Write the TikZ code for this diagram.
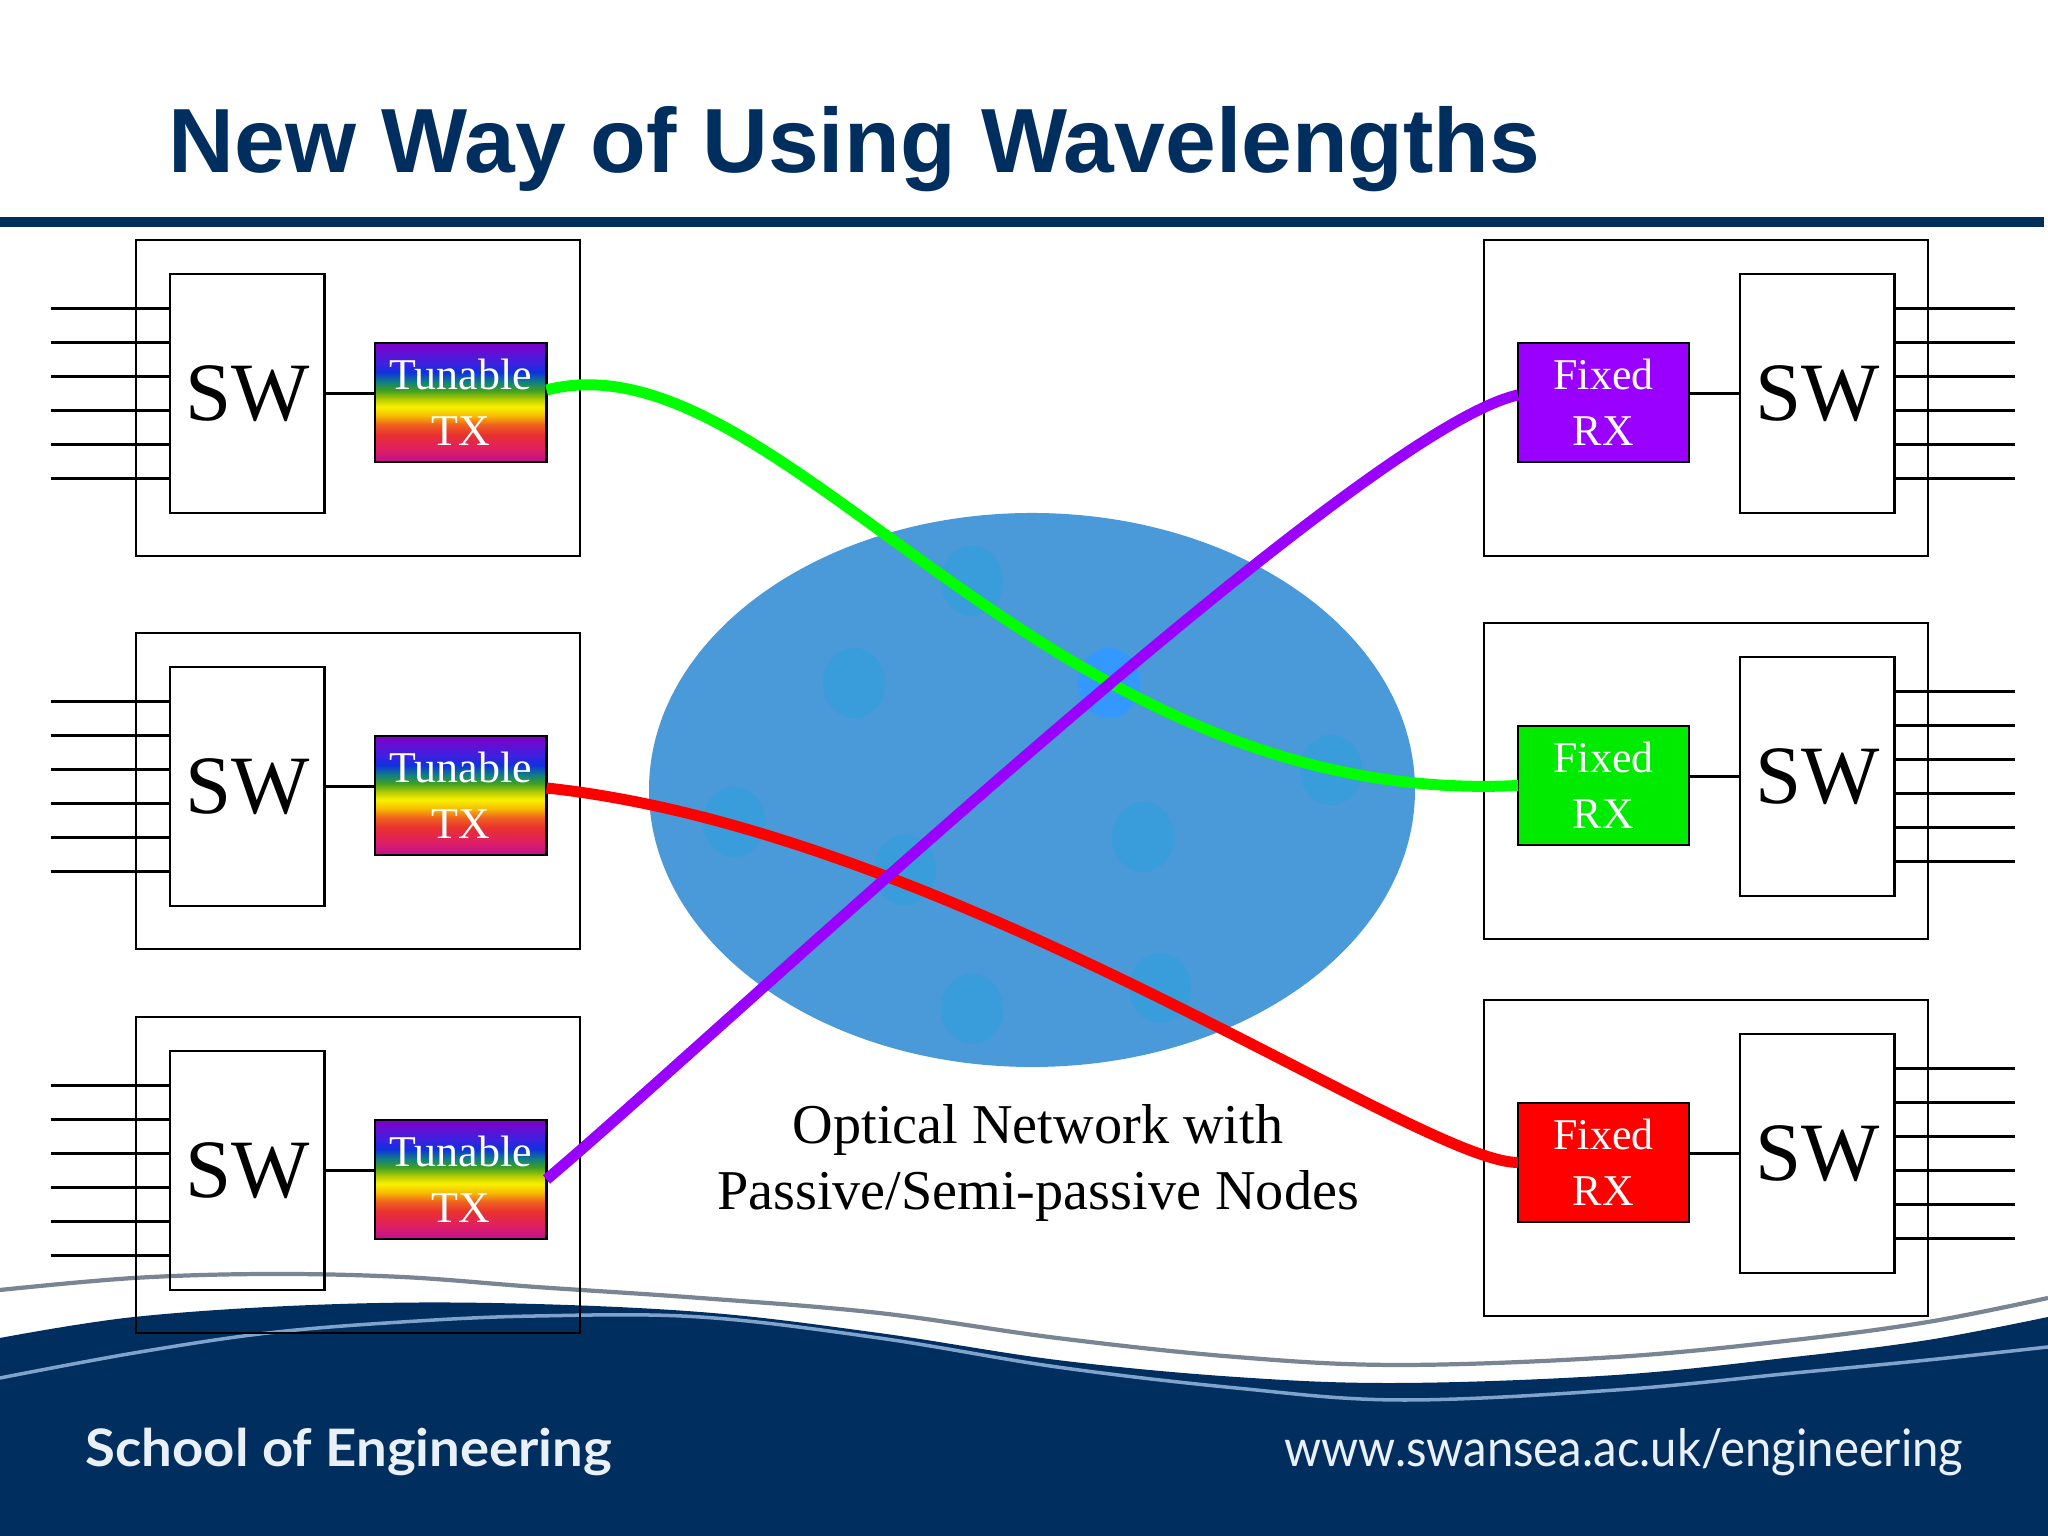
\documentclass[tikz,border=0pt]{standalone}
\usepackage{fontspec}
\setmainfont{Liberation Serif}
\newfontfamily\headfont{Liberation Sans}
\newfontfamily\footfont{Lato}
\usepackage{xcolor}
\usepackage{tikz}
\usetikzlibrary{positioning,shapes.geometric}

\definecolor{navy}{RGB}{0,46,94}
\definecolor{netblue}{RGB}{74,153,217}
\definecolor{netspot}{RGB}{56,157,218}
\definecolor{netbright}{RGB}{51,153,255}
\definecolor{bandgray}{RGB}{122,133,148}
\definecolor{bandblue}{RGB}{127,163,204}
\definecolor{foottext}{RGB}{234,240,248}
\definecolor{rxpurple}{RGB}{153,0,255}
\definecolor{rxgreen}{RGB}{0,235,0}
\definecolor{fibregreen}{RGB}{0,255,0}
\definecolor{rxred}{RGB}{255,0,0}
\definecolor{rbA}{RGB}{192,16,144}
\definecolor{rbB}{RGB}{224,32,96}
\definecolor{rbC}{RGB}{232,48,48}
\definecolor{rbD}{RGB}{240,96,32}
\definecolor{rbE}{RGB}{248,192,0}
\definecolor{rbF}{RGB}{248,240,0}
\definecolor{rbG}{RGB}{192,208,0}
\definecolor{rbH}{RGB}{64,160,32}
\definecolor{rbI}{RGB}{16,128,128}
\definecolor{rbJ}{RGB}{16,48,224}
\definecolor{rbK}{RGB}{64,32,224}
\definecolor{rbL}{RGB}{128,0,200}
\pgfdeclareverticalshading{rainbowtx}{100bp}{color(0bp)=(rbA); color(25bp)=(rbA);
  color(30.8bp)=(rbB); color(36.4bp)=(rbC); color(40.6bp)=(rbD); color(44.7bp)=(rbE);
  color(48.2bp)=(rbF); color(51bp)=(rbG); color(55.1bp)=(rbH); color(58.6bp)=(rbI);
  color(62.8bp)=(rbJ); color(66.9bp)=(rbK); color(75bp)=(rbL); color(100bp)=(rbL)}

\begin{document}
\begin{tikzpicture}[
  node distance=0.50cm,
  unitbox/.style={rectangle, draw, line width=0.8pt, inner sep=0pt, outer sep=0pt, minimum width=4.44cm, minimum height=3.16cm},
  swbox/.style={rectangle, draw, line width=0.8pt, inner sep=0pt, outer sep=0pt, minimum width=1.545cm, minimum height=2.39cm, font=\fontsize{23.6pt}{24pt}\selectfont},
  txbox/.style={rectangle, draw, line width=0.8pt, inner sep=0pt, outer sep=0pt, shade, shading=rainbowtx, minimum width=1.715cm, minimum height=1.19cm, align=center, text=white, font=\fontsize{12.5pt}{15.9pt}\selectfont},
  rxbox/.style={rectangle, draw, line width=0.8pt, inner sep=0pt, outer sep=0pt, fill=#1, minimum width=1.71cm, minimum height=1.19cm, align=center, text=white, font=\fontsize{12.5pt}{15.9pt}\selectfont},
  wire/.style={line width=0.7pt},
  fibre/.style={line width=0.11cm}
]
\useasboundingbox (0,0) rectangle (20.48,15.36);
\fill[white] (0,0) rectangle (20.48,15.36);

% footer band
\fill[navy] plot[smooth, tension=0.6] coordinates {(0,1.98) (1.34,2.19) (3.12,2.31) (4.91,2.33) (7.00,2.24) (8.79,2.03) (10.57,1.76) (12.36,1.59) (14.00,1.53) (16.16,1.61) (17.94,1.79) (19.28,1.96) (20.48,2.19)} -- (20.48,0) -- (0,0) -- cycle;
\draw[bandgray, line width=1.2pt] plot[smooth, tension=0.6] coordinates {(0,2.46) (1.34,2.58) (2.68,2.62) (4.02,2.59) (5.36,2.49) (7.00,2.38) (8.79,2.23) (10.57,1.98) (12.36,1.79) (14.00,1.71) (16.16,1.79) (17.94,1.96) (19.28,2.14) (20.48,2.38)};
\draw[bandblue, line width=1pt] plot[smooth, tension=0.6] coordinates {(0,1.58) (1.34,1.83) (2.68,2.03) (4.02,2.14) (5.36,2.20) (7.00,2.19) (8.79,1.98) (10.57,1.69) (12.36,1.48) (14.00,1.36) (16.16,1.46) (17.94,1.63) (19.28,1.76) (20.48,1.89)};

\node[anchor=base west, inner sep=0pt, text=navy, font=\headfont\bfseries\fontsize{25.95pt}{30pt}\selectfont] (title) at (1.68,13.63) {New Way of Using Wavelengths};
\draw[navy, line width=0.10cm] (0,13.14) -- (20.44,13.14);

\node[anchor=base west, inner sep=0pt, text=foottext, font=\footfont\bfseries\fontsize{14.7pt}{16pt}\selectfont] (school) at (0.85,0.69) {\scalebox{1.055}[1]{School of Engineering}};
\node[anchor=base east, inner sep=0pt, text=foottext, font=\footfont\fontsize{14.7pt}{16pt}\selectfont] (web) at (19.64,0.69) {\scalebox{0.915}[1]{www.swansea.ac.uk/engineering}};

% optical network
\node[ellipse, fill=netblue, inner sep=0pt, minimum width=7.66cm, minimum height=5.54cm] (net) at (10.32,7.46) {};
\foreach \bx/\by in {-0.60/2.09, -1.78/1.07, -2.98/-0.32, -1.27/-0.80, 1.11/-0.47, 2.99/0.20, -0.60/-2.19, 1.28/-1.98}
  \fill[netspot] (net.center) ++(\bx,\by) ellipse (0.31 and 0.35);
\fill[netbright] (net.center) ++(0.77,1.07) ellipse (0.31 and 0.35);
\node[below=0.36cm of net, xshift=0.06cm, align=center, inner sep=0pt, font=\fontsize{16pt}{18.7pt}\selectfont] (caption) {Optical Network with\\Passive/Semi-passive Nodes};

% transmitting side
\node[unitbox] (lbox1) at (3.58,11.38) {};
\node[unitbox, below=0.77cm of lbox1] (lbox2) {};
\node[unitbox, below=0.68cm of lbox2] (lbox3) {};
\node[swbox, right=0.34cm of lbox1.west, yshift=0.045cm] (sw1) {SW};
\node[swbox, right=0.34cm of lbox2.west, yshift=0.045cm] (sw2) {SW};
\node[swbox, right=0.34cm of lbox3.west, yshift=0.045cm] (sw3) {SW};
\node[txbox, right=0.505cm of sw1, yshift=-0.09cm] (tx1) {Tunable\\TX};
\node[txbox, right=0.505cm of sw2, yshift=-0.09cm] (tx2) {Tunable\\TX};
\node[txbox, right=0.505cm of sw3, yshift=-0.09cm] (tx3) {Tunable\\TX};

% receiving side
\node[unitbox, right=9.04cm of lbox1] (rbox1) {};
\node[unitbox, below=0.67cm of rbox1] (rbox2) {};
\node[unitbox, below=0.61cm of rbox2] (rbox3) {};
\node[swbox, left=0.335cm of rbox1.east, yshift=0.045cm] (rsw1) {SW};
\node[swbox, left=0.335cm of rbox2.east, yshift=0.045cm] (rsw2) {SW};
\node[swbox, left=0.335cm of rbox3.east, yshift=0.045cm] (rsw3) {SW};
\node[rxbox=rxpurple, left=0.51cm of rsw1, yshift=-0.09cm] (rx1) {Fixed\\RX};
\node[rxbox=rxgreen, left=0.51cm of rsw2, yshift=-0.09cm] (rx2) {Fixed\\RX};
\node[rxbox=rxred, left=0.51cm of rsw3, yshift=-0.09cm] (rx3) {Fixed\\RX};

\foreach \s in {sw1,sw2,sw3}
  \foreach \k in {-0.85,-0.51,-0.17,0.17,0.51,0.85}
    \draw[wire] ([yshift=\k cm]\s.west) -- ++(-1.19,0);
\foreach \s in {rsw1,rsw2,rsw3}
  \foreach \k in {-0.85,-0.51,-0.17,0.17,0.51,0.85}
    \draw[wire] ([yshift=\k cm]\s.east) -- ++(1.20,0);

\draw[wire] (sw1.east) -- (sw1.east -| tx1.west);
\draw[wire] (sw2.east) -- (sw2.east -| tx2.west);
\draw[wire] (sw3.east) -- (sw3.east -| tx3.west);
\draw[wire] (rsw1.west) -- (rsw1.west -| rx1.east);
\draw[wire] (rsw2.west) -- (rsw2.west -| rx2.east);
\draw[wire] (rsw3.west) -- (rsw3.west -| rx3.east);

% lightpaths
\draw[fibre, fibregreen] ([yshift=0.125cm]tx1.east) .. controls +(2.34,0.60) and +(-4.79,-0.24) .. (rx2.west);
\draw[fibre, rxred] ([yshift=0.075cm]tx2.east) .. controls +(4.04,-0.43) and +(-0.99,0) .. (rx3.west);
\draw[fibre, rxpurple] (tx3.east) .. controls +(1.74,1.47) and +(-1.59,-0.35) .. ([yshift=0.075cm]rx1.west);

\end{tikzpicture}
\end{document}
